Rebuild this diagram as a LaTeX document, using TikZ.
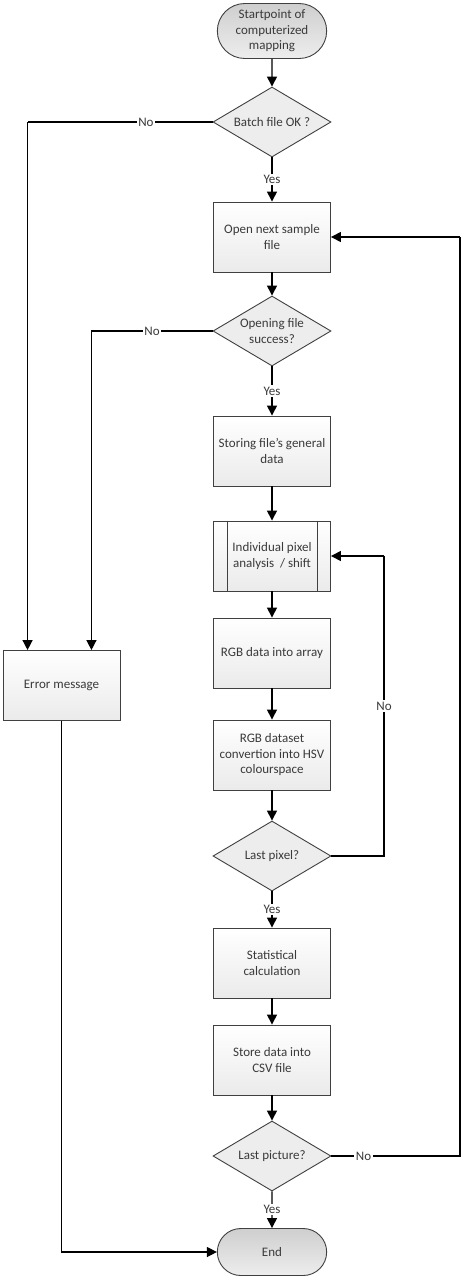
\documentclass[tikz,border=0pt]{standalone}
\usepackage{fontspec}
\setmainfont{Carlito}
\usetikzlibrary{shapes.geometric,shapes.misc,arrows.meta}
\definecolor{txtgray}{HTML}{3A3A3A}
\definecolor{edgegray}{HTML}{404040}
\tikzset{
  base/.style={draw=edgegray,line width=0.9pt,text=txtgray,align=center,
    font=\fontsize{13}{15.5}\selectfont},
  proc/.style={base,rectangle,minimum width=117pt,minimum height=70pt,
    inner sep=2pt,top color=white,bottom color=gray!16},
  term/.style={base,rounded rectangle,minimum width=116pt,
    top color=gray!38,bottom color=gray!14},
  decide/.style={base,diamond,aspect=1.69,minimum width=118pt,minimum height=70pt,
    inner sep=0pt,fill=gray!14},
  arr/.style={line width=1.4pt,-{Triangle[width=10pt,length=10pt]}},
  line/.style={line width=1.4pt},
  lbl/.style={fill=white,inner sep=1.5pt,text=txtgray,font=\fontsize{13}{15.5}\selectfont}
}
\begin{document}
\begin{tikzpicture}[x=1pt,y=-1pt]
    \useasboundingbox[fill=white] (0,0) rectangle (474,1280);
        % main column
        \node[term,minimum height=55pt] (start) at (272,31) {Startpoint of\\computerized\\mapping};
        \node[decide] (batch) at (272,122) {Batch file OK ?};
        \node[proc] (open) at (272,237) {Open next sample\\file};
        \node[decide] (opening) at (272,331) {Opening file\\success?};
        \node[proc] (store) at (272,451) {Storing file's general\\data};
        \node[proc] (pix) at (272,556) {Individual pixel\\analysis \ / shift};
        \draw[edgegray,line width=0.9pt] ([xshift=14pt]pix.north west) -- ([xshift=14pt]pix.south west);
        \draw[edgegray,line width=0.9pt] ([xshift=-14pt]pix.north east) -- ([xshift=-14pt]pix.south east);
        \node[proc] (rgb) at (272,653) {RGB data into array};
        \node[proc] (hsv) at (272,755) {RGB dataset\\convertion into HSV\\colourspace};
        \node[decide] (lastpix) at (272,856) {Last pixel?};
        \node[proc] (stat) at (272,963) {Statistical\\calculation};
        \node[proc] (csv) at (272,1060) {Store data into\\CSV file};
        \node[decide] (lastpic) at (272,1156) {Last picture?};
        \node[term,minimum height=47pt] (end) at (272,1252) {End};
        % error branch
        \node[proc] (err) at (61.5,685.5) {Error message};
        \coordinate (errA) at ([xshift=25pt]err.north west);
        \coordinate (errB) at ([xshift=-29pt]err.north east);
        \coordinate (pixloop) at (384,0);
        \coordinate (picloop) at (460,0);

        % connectors
        \draw[arr] (start) -- (batch);
        \draw[arr] (batch) -- node[lbl] {Yes} (open);
        \draw[arr] (open) -- (opening);
        \draw[arr] (opening) -- node[lbl] {Yes} (store);
        \draw[arr] (store) -- (pix);
        \draw[arr] (pix) -- (rgb);
        \draw[arr] (rgb) -- (hsv);
        \draw[arr] (hsv) -- (lastpix);
        \draw[arr] (lastpix) -- node[lbl] {Yes} (stat);
        \draw[arr] (stat) -- (csv);
        \draw[arr] (csv) -- (lastpic);
        \draw[arr] (lastpic) -- node[lbl] {Yes} (end);
        \draw[line] (batch.west) -- node[lbl,pos=.36] {No} (batch.west -| errA);
        \draw[arr] (batch.west -| errA) -- (errA);
        \draw[line] (opening.west) -- node[lbl] {No} (opening.west -| errB);
        \draw[arr] (opening.west -| errB) -- (errB);
        \draw[line] (lastpix.east) -- (lastpix.east -| pixloop) -- node[lbl] {No} (pix.east -| pixloop);
        \draw[arr] (pix.east -| pixloop) -- (pix.east);
        \draw[line] (lastpic.east) -- node[lbl,pos=.25] {No} (lastpic.east -| picloop) -- (open.east -| picloop);
        \draw[arr] (open.east -| picloop) -- (open.east);
        \draw[arr] (err.south) |- (end.west);
    \end{tikzpicture}
\end{document}
